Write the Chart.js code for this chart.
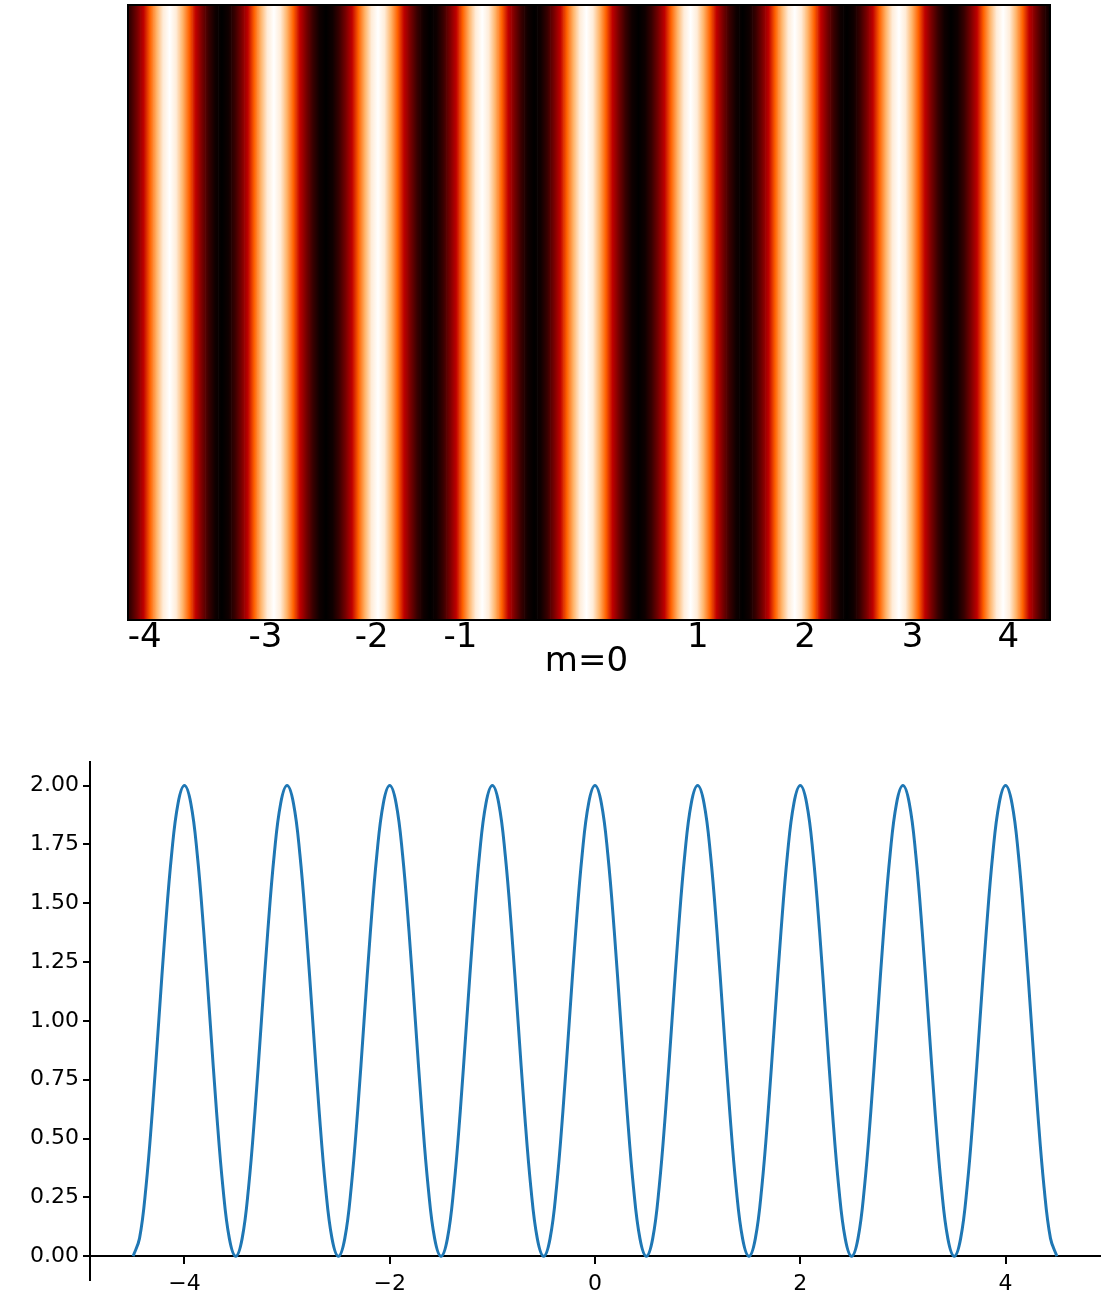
<!DOCTYPE html>
<html>
<head>
<meta charset="utf-8">
<script src="https://cdn.jsdelivr.net/npm/chart.js@4"></script>
<style>
  body { margin: 0; background: #fff; width: 1108px; height: 1297px; overflow: hidden; }
  #top { position: absolute; left: 0; top: 0; width: 1108px; height: 690px; }
  #bottom { position: absolute; left: 0; top: 690px; width: 1108px; height: 607px; }
</style>
</head>
<body>
<div id="top"><canvas id="chart-fringes"></canvas></div>
<div id="bottom"><canvas id="chart-line"></canvas></div>
<script>
// x positions, step 1/16 from -4.5 to 4.5
const xStart = -4.5;
const xStep = 0.0625;
// intensity (trough 0, peak 2)
const intensity = [
  0,0.076,0.293,0.617,1,1.383,1.707,1.924,2,1.924,1.707,1.383,1,0.617,0.293,0.076,
  0,0.076,0.293,0.617,1,1.383,1.707,1.924,2,1.924,1.707,1.383,1,0.617,0.293,0.076,
  0,0.076,0.293,0.617,1,1.383,1.707,1.924,2,1.924,1.707,1.383,1,0.617,0.293,0.076,
  0,0.076,0.293,0.617,1,1.383,1.707,1.924,2,1.924,1.707,1.383,1,0.617,0.293,0.076,
  0,0.076,0.293,0.617,1,1.383,1.707,1.924,2,1.924,1.707,1.383,1,0.617,0.293,0.076,
  0,0.076,0.293,0.617,1,1.383,1.707,1.924,2,1.924,1.707,1.383,1,0.617,0.293,0.076,
  0,0.076,0.293,0.617,1,1.383,1.707,1.924,2,1.924,1.707,1.383,1,0.617,0.293,0.076,
  0,0.076,0.293,0.617,1,1.383,1.707,1.924,2,1.924,1.707,1.383,1,0.617,0.293,0.076,
  0,0.076,0.293,0.617,1,1.383,1.707,1.924,2,1.924,1.707,1.383,1,0.617,0.293,0.076,
  0
];
// top panel tick labels and where they sit
const fringeTickPos = [-4.24, -3.08, -2.06, -1.21, 0.0, 1.07, 2.1, 3.13, 4.05];
const fringeTickLabels = ["-4", "-3", "-2", "-1", ["", "m=0"], "1", "2", "3", "4"];
const lineXTicks = [-4, -2, 0, 2, 4];
const lineYTicks = [0, 0.25, 0.5, 0.75, 1, 1.25, 1.5, 1.75, 2];

const points = intensity.map((v, i) => ({ x: xStart + i * xStep, y: v }));

// gist_heat colormap
const heat = (v) => {
  const t = v / 2;
  const c = (u) => Math.round(255 * Math.min(1, Math.max(0, u)));
  return `rgb(${c(1.5 * t)},${c(2 * t - 1)},${c(4 * t - 3)})`;
};

const FONT = "'DejaVu Sans', sans-serif";
const FRINGE_MIN = -4.4;
const FRINGE_MAX = 4.45;

// one smooth horizontal gradient shared by all the fringe bars
let fringeGradient = null;
const fringeFill = (ctx) => {
  const chart = ctx.chart;
  const a = chart.chartArea;
  if (!a) return "#000";
  if (!fringeGradient) {
    const xs = chart.scales.x;
    const g = chart.ctx.createLinearGradient(a.left, 0, a.right, 0);
    points.forEach((p) => {
      const stop = (xs.getPixelForValue(p.x) - a.left) / (a.right - a.left);
      if (stop >= 0 && stop <= 1) g.addColorStop(stop, heat(p.y));
    });
    fringeGradient = g;
  }
  return fringeGradient;
};

const frame = {
  id: "frame",
  afterDraw(chart) {
    const { ctx, chartArea: a } = chart;
    ctx.save();
    ctx.strokeStyle = "#000";
    ctx.lineWidth = 2;
    ctx.strokeRect(a.left, a.top, a.right - a.left, a.bottom - a.top);
    ctx.restore();
  },
};

new Chart(document.getElementById("chart-fringes"), {
  type: "bar",
  data: {
    datasets: [{
      data: points.map((p) => ({ x: p.x, y: 1 })),
      backgroundColor: fringeFill,
      borderWidth: 0,
      barPercentage: 1.1,
      categoryPercentage: 1,
    }],
  },
  options: {
    responsive: true,
    maintainAspectRatio: false,
    animation: false,
    layout: { padding: { left: 128, right: 58, top: 5 } },
    plugins: { legend: { display: false }, tooltip: { enabled: false } },
    scales: {
      x: {
        type: "linear",
        min: FRINGE_MIN,
        max: FRINGE_MAX,
        offset: false,
        grid: { display: false },
        border: { display: false },
        afterBuildTicks: (s) => { s.ticks = fringeTickPos.map((v) => ({ value: v })); },
        afterFit: (s) => { s.height = 70; },
        ticks: {
          autoSkip: false,
          maxRotation: 0,
          color: "#000",
          padding: -1,
          font: { family: FONT, size: 34, lineHeight: 0.68 },
          callback: (v, i) => fringeTickLabels[i],
        },
      },
      y: { display: false, min: 0, max: 1 },
    },
  },
  plugins: [frame],
});

new Chart(document.getElementById("chart-line"), {
  type: "line",
  data: {
    datasets: [{
      data: points,
      borderColor: "#1f77b4",
      borderWidth: 3,
      pointRadius: 0,
      fill: false,
      tension: 0.4,
    }],
  },
  options: {
    responsive: true,
    maintainAspectRatio: false,
    animation: false,
    layout: { padding: { top: 72, right: 8, bottom: 15 } },
    plugins: { legend: { display: false }, tooltip: { enabled: false } },
    scales: {
      x: {
        type: "linear",
        position: { y: 0 },
        min: -4.92,
        max: 4.92,
        grid: { drawOnChartArea: false, tickLength: 7, color: "#000", lineWidth: 2 },
        border: { color: "#000", width: 2 },
        afterBuildTicks: (s) => { s.ticks = lineXTicks.map((v) => ({ value: v })); },
        ticks: {
          color: "#000",
          padding: 8,
          font: { family: FONT, size: 22 },
          callback: (v) => String(v).replace("-", "\u2212"),
        },
      },
      y: {
        min: -0.1,
        max: 2.1,
        grid: { drawOnChartArea: false, tickLength: 7, color: "#000", lineWidth: 2 },
        border: { color: "#000", width: 2 },
        afterBuildTicks: (s) => { s.ticks = lineYTicks.map((v) => ({ value: v })); },
        afterFit: (s) => { s.width = 90; },
        ticks: {
          color: "#000",
          padding: 4,
          font: { family: FONT, size: 22 },
          callback: (v) => v.toFixed(2),
        },
      },
    },
  },
});
</script>
</body>
</html>
